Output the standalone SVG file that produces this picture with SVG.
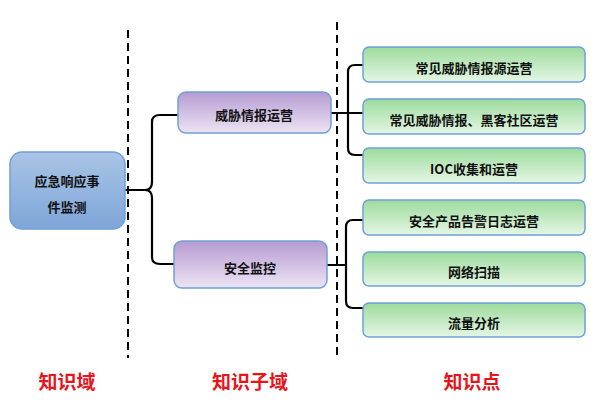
<svg xmlns="http://www.w3.org/2000/svg" width="600" height="408" viewBox="0 0 600 408">
<defs>
<linearGradient id="gb" x1="0" y1="0" x2="0" y2="1"><stop offset="0" stop-color="#a9c4e6"/><stop offset="1" stop-color="#7ea6d8"/></linearGradient>
<linearGradient id="gp" x1="0" y1="0" x2="0" y2="1"><stop offset="0" stop-color="#b69bd1"/><stop offset="1" stop-color="#ece4f4"/></linearGradient>
<linearGradient id="gg" x1="0" y1="0" x2="0" y2="1"><stop offset="0" stop-color="#9ddb9d"/><stop offset="1" stop-color="#e4f6e4"/></linearGradient>
</defs>
<style>
.n{stroke:#6fa0d8;stroke-width:1.5}
.t{font-family:"Noto Sans CJK SC",sans-serif;font-weight:bold;font-size:13px;fill:#111;text-anchor:middle;dominant-baseline:central}
.c{fill:none;stroke:#000;stroke-width:2.2}
.d{stroke:#000;stroke-width:2;stroke-dasharray:8,5}
.r{font-family:"Noto Sans CJK SC",sans-serif;font-weight:bold;font-size:19px;fill:#e8141c;text-anchor:middle}
</style>
<rect width="600" height="408" fill="#fff"/>
<g id="dashes"><line class="d" x1="128" y1="30" x2="128" y2="358"/><line class="d" x1="337" y1="22" x2="337" y2="358"/></g>
<g id="connectors">
<path class="c" d="M125 190 H145 Q152 190 152 182 V122 Q152 115 160 115 H178"/>
<path class="c" d="M145 190 Q152 190 152 198 V257 Q152 264 160 264 H174"/>
<path class="c" d="M331 113 H348 M348 113 V72 Q348 65 355 65 H363 M348 113 V148 Q348 155 355 155 H363 M348 113 H363"/>
<path class="c" d="M327 265 H346 M346 265 V227 Q346 220 353 220 H363 M346 265 V301 Q346 308 353 308 H363"/>
</g>
<g id="root"><rect class="n" x="10" y="152" width="115" height="77" rx="12" fill="url(#gb)"/><text class="t" x="67" y="180">应急响应事</text><text class="t" x="67" y="206">件监测</text></g>
<g id="threat"><rect class="n" x="178" y="92" width="153" height="41" rx="8" fill="url(#gp)"/><text class="t" x="254" y="114">威胁情报运营</text></g>
<g id="monitor"><rect class="n" x="174" y="241" width="153" height="47" rx="8" fill="url(#gp)"/><text class="t" x="250" y="267">安全监控</text></g>
<g id="k1"><rect class="n" x="363" y="47" width="222" height="35" rx="6" fill="url(#gg)"/><text class="t" x="474" y="67">常见威胁情报源运营</text></g>
<g id="k2"><rect class="n" x="363" y="99" width="222" height="35" rx="6" fill="url(#gg)"/><text class="t" x="474" y="119">常见威胁情报、黑客社区运营</text></g>
<g id="k3"><rect class="n" x="363" y="148" width="222" height="35" rx="6" fill="url(#gg)"/><text class="t" x="474" y="168">IOC收集和运营</text></g>
<g id="k4"><rect class="n" x="363" y="200" width="222" height="35" rx="6" fill="url(#gg)"/><text class="t" x="474" y="220">安全产品告警日志运营</text></g>
<g id="k5"><rect class="n" x="363" y="252" width="222" height="34" rx="6" fill="url(#gg)"/><text class="t" x="474" y="271">网络扫描</text></g>
<g id="k6"><rect class="n" x="363" y="303" width="222" height="34" rx="6" fill="url(#gg)"/><text class="t" x="474" y="322">流量分析</text></g>
<g id="labels"><text class="r" x="67" y="389">知识域</text><text class="r" x="250" y="389">知识子域</text><text class="r" x="472" y="389">知识点</text></g>
</svg>
